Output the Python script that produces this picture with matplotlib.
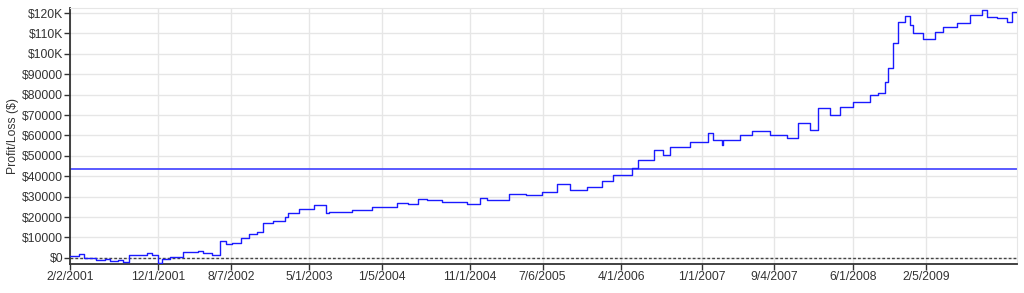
import numpy as np
import pandas as pd
import matplotlib
matplotlib.use("Agg")
import matplotlib.pyplot as plt
from matplotlib.ticker import FuncFormatter

plt.rcParams['font.family'] = ['Liberation Sans', 'DejaVu Sans']

# equity curve (trade date, cumulative P/L in $)
trade_dates = [
    '2001-02-02', '2001-03-06', '2001-03-23', '2001-04-10', '2001-05-03',
    '2001-06-01', '2001-06-20', '2001-07-15', '2001-08-01', '2001-08-24',
    '2001-10-22', '2001-11-10', '2001-11-29', '2001-12-12', '2002-01-08',
    '2002-02-23', '2002-04-15', '2002-05-01', '2002-06-03', '2002-06-28',
    '2002-07-20', '2002-08-10', '2002-09-10', '2002-10-07', '2002-11-02',
    '2002-11-22', '2002-12-26', '2003-02-07', '2003-02-16', '2003-03-27',
    '2003-05-18', '2003-06-26', '2003-07-08', '2003-09-25', '2003-12-02',
    '2004-02-23', '2004-04-01', '2004-05-05', '2004-06-05', '2004-07-29',
    '2004-10-20', '2004-12-05', '2004-12-29', '2005-03-14', '2005-05-11',
    '2005-07-05', '2005-08-23', '2005-10-07', '2005-12-04', '2006-01-26',
    '2006-03-03', '2006-05-06', '2006-05-27', '2006-07-23', '2006-08-20',
    '2006-09-14', '2006-11-22', '2007-01-23', '2007-02-08', '2007-03-10',
    '2007-03-15', '2007-05-11', '2007-06-23', '2007-08-22', '2007-10-19',
    '2007-11-26', '2008-01-05', '2008-02-02', '2008-03-14', '2008-04-17',
    '2008-06-01', '2008-07-29', '2008-08-25', '2008-09-19', '2008-09-29',
    '2008-10-16', '2008-11-02', '2008-11-26', '2008-12-14', '2008-12-23',
    '2009-01-27', '2009-03-08', '2009-04-05', '2009-05-23', '2009-07-05',
    '2009-08-16', '2009-09-02', '2009-10-07', '2009-11-10', '2009-11-26',
    '2009-12-13',
]
pnl = [
    1000, 1800, 0, -300, -1200,
    -400, -1500, -800, -1800, 1500,
    2400, 1200, -2300, -600, 600,
    2800, 3300, 2600, 1500, 8300,
    6700, 7200, 9700, 11500, 12900,
    17300, 18100, 19900, 22200, 23900,
    26000, 21900, 22500, 23500, 25100,
    27100, 26300, 28900, 28400, 27300,
    26300, 29300, 28400, 31200, 30900,
    32200, 36100, 33300, 34600, 37700,
    40700, 44000, 48000, 52900, 50500,
    54200, 57000, 61100, 57800, 55500,
    57800, 60300, 62400, 60300, 58700,
    66000, 62700, 73300, 70000, 74100,
    76600, 79900, 81000, 86400, 92900,
    105200, 115800, 118300, 114200, 110100,
    107300, 110900, 113300, 115300, 119100,
    121500, 117900, 117400, 115500, 120600,
    120600,
]
avg_level = 43600

tick_dates = ['2001-02-02', '2001-12-01', '2002-08-07', '2003-05-01', '2004-01-05',
              '2004-11-01', '2005-07-06', '2006-04-01', '2007-01-01', '2007-09-04',
              '2008-06-01', '2009-02-05']
tick_labels = ['2/2/2001', '12/1/2001', '8/7/2002', '5/1/2003', '1/5/2004',
               '11/1/2004', '7/6/2005', '4/1/2006', '1/1/2007', '9/4/2007',
               '6/1/2008', '2/5/2009']

x = pd.to_datetime(trade_dates)
ticks = pd.to_datetime(tick_dates)

fig = plt.figure(figsize=(10.24, 2.93), dpi=100)
ax = fig.add_axes([0.0684, 0.099, 0.9246, 0.874])

ax.step(x, pnl, where='post', color='#1a1aff', lw=1.0, zorder=3)
ax.axhline(avg_level, color='#4d4dff', lw=1.3, zorder=2)
ax.axhline(0, color='#444444', lw=1.0, ls=(0, (2, 1.5)), zorder=2)

ax.set_xlim(x[0], x[-1])
ax.set_ylim(-3000, 122500)

ax.set_xticks(ticks)
ax.set_xticklabels(tick_labels)
ax.set_yticks(np.arange(0, 120001, 10000))


def money(v, pos):
    if v >= 100000:
        return '$%dK' % (v / 1000)
    return '$%d' % v


ax.yaxis.set_major_formatter(FuncFormatter(money))

ax.grid(True, color='#e6e6e6', lw=1.0, zorder=0)
ax.set_axisbelow(True)
for side in ['top', 'right']:
    ax.spines[side].set_color('#e6e6e6')
for side in ['left', 'bottom']:
    ax.spines[side].set_color('#333333')
    ax.spines[side].set_linewidth(1.3)

ax.tick_params(axis='both', labelsize=8.7, colors='#333333', length=4, width=1, pad=1)
ax.set_ylabel('Profit/Loss ($)', fontsize=8.7, color='#333333', labelpad=2)

fig.savefig('out.png', dpi=100)
